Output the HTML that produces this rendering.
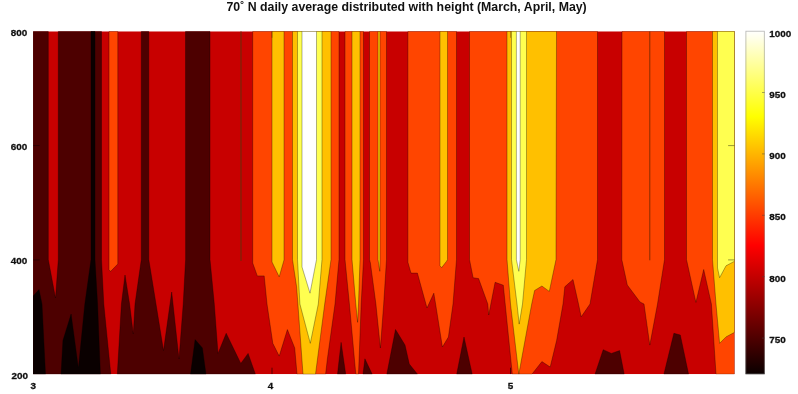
<!DOCTYPE html>
<html><head><meta charset="utf-8"><title>70 N daily average</title>
<style>
html,body{margin:0;padding:0;background:#fff;}
body{width:798px;height:394px;overflow:hidden;position:relative;font-family:"Liberation Sans",sans-serif;}
svg{position:absolute;left:0;top:0;display:block;}
svg text{font-family:"Liberation Sans",sans-serif;font-weight:bold;fill:#111;}
#plot polygon{stroke:#000;stroke-opacity:.45;stroke-width:.7;stroke-linejoin:round;}
</style></head><body>
<svg width="798" height="394" viewBox="0 0 798 394">
<defs>
<linearGradient id="hot" x1="0" y1="1" x2="0" y2="0">
<stop offset="0" stop-color="#0a0000"/><stop offset="0.375" stop-color="#ff0000"/><stop offset="0.75" stop-color="#ffff00"/><stop offset="1" stop-color="#ffffff"/>
</linearGradient>
<clipPath id="cp"><rect x="33.1" y="31.3" width="701.5" height="342.9"/></clipPath>
</defs>
<rect x="0" y="0" width="798" height="394" fill="#fff"/>
<g id="plot" clip-path="url(#cp)">
<rect x="33.1" y="31.3" width="701.5" height="342.9" fill="#c80000"/>
<polygon points="33.1,31.3 48.3,31.3 48.3,259.6 55.5,298.0 58.3,259.6 58.3,31.3 101.5,31.3 101.5,259.6 103.8,304.0 110.8,374.2 33.1,374.2" fill="#4d0000"/>
<polygon points="117.3,374.2 121.4,304.0 125.0,275.0 129.6,304.0 133.3,334.0 135.0,304.0 141.3,259.6 141.3,31.3 148.8,31.3 148.8,259.6 156.0,304.0 163.5,350.6 171.7,292.0 179.0,359.0 183.2,304.0 185.6,259.6 185.5,31.3 210.0,31.3 210.0,259.6 214.3,304.0 218.0,353.4 226.2,333.3 240.8,363.4 248.1,353.4 255.4,374.2" fill="#4d0000"/>
<polygon points="337.5,374.2 341.1,342.4 345.7,374.2" fill="#4d0000"/>
<polygon points="363.0,374.2 364.9,358.8 372.2,374.2" fill="#4d0000"/>
<polygon points="386.8,374.2 395.5,329.5 405.0,345.0 409.3,364.0 417.5,374.2" fill="#4d0000"/>
<polygon points="456.7,374.2 464.0,337.0 472.2,374.2" fill="#4d0000"/>
<polygon points="595.0,374.2 603.2,349.7 611.4,353.4 619.6,350.6 624.2,374.2" fill="#4d0000"/>
<polygon points="663.9,374.2 673.9,333.3 680.3,335.0 688.6,374.2" fill="#4d0000"/>
<polygon points="33.1,296.0 39.0,289.6 42.0,304.0 45.5,374.2 33.1,374.2" fill="#0a0000"/>
<polygon points="61.0,374.2 62.9,340.6 71.1,314.0 78.4,368.0 84.8,304.0 91.0,259.6 91.0,31.3 95.0,31.3 95.0,259.6 97.6,304.0 100.4,374.2" fill="#0a0000"/>
<polygon points="190.5,374.2 195.1,339.6 202.4,347.9 206.0,374.2" fill="#0a0000"/>
<polygon points="109.0,31.3 117.8,31.3 117.8,264.0 110.5,271.5 109.0,269.5" fill="#ff4500"/>
<polygon points="252.7,31.3 252.7,263.0 257.3,275.9 264.2,275.9 267.0,304.0 272.8,343.3 279.2,356.1 287.4,329.6 294.7,347.9 297.0,374.2 325.6,374.2 327.4,358.8 335.0,304.0 339.0,259.6 339.0,31.3" fill="#ff4500"/>
<polygon points="345.0,31.3 363.5,31.3 363.5,259.6 361.2,304.0 358.5,374.2 355.8,374.2 349.4,304.0 345.0,259.6" fill="#ff4500"/>
<polygon points="369.5,31.3 386.5,31.3 386.5,259.6 383.7,304.0 380.4,348.0 375.9,304.0 370.4,263.0 369.5,259.6" fill="#ff4500"/>
<polygon points="407.9,31.3 407.9,262.2 411.0,273.1 417.4,273.1 427.0,308.0 433.8,293.2 435.6,304.0 442.4,347.0 448.4,337.0 453.0,304.0 456.5,259.6 456.5,31.3" fill="#ff4500"/>
<polygon points="469.5,31.3 469.5,259.6 473.1,277.7 478.6,278.6 487.8,304.0 488.7,315.0 495.1,282.3 503.3,285.2 512.3,374.2 531.9,374.2 541.9,361.6 550.2,367.0 556.6,340.6 563.0,304.0 564.8,286.8 573.0,279.5 578.5,304.0 581.2,316.8 590.0,304.0 597.5,259.6 597.5,31.3" fill="#ff4500"/>
<polygon points="622.0,31.3 621.8,259.6 627.3,285.0 640.0,302.0 644.0,304.0 649.8,345.1 657.5,304.0 664.5,259.6 664.5,31.3" fill="#ff4500"/>
<polygon points="686.5,31.3 686.5,259.6 695.9,302.4 703.7,269.5 711.4,304.0 716.0,374.2 734.6,374.2 734.6,31.3" fill="#ff4500"/>
<polygon points="272.0,31.3 284.0,31.3 284.0,260.0 279.2,276.8 272.0,262.0" fill="#ffc000"/>
<polygon points="292.5,31.3 292.5,259.6 296.6,286.8 297.9,304.0 303.0,374.2 315.5,374.2 324.7,304.0 331.0,259.6 331.0,31.3" fill="#ffc000"/>
<polygon points="352.0,31.3 360.0,31.3 360.0,259.6 358.5,304.0 357.6,322.3 355.8,304.0 352.0,259.6" fill="#ffc000"/>
<polygon points="378.0,31.3 380.0,31.3 380.0,259.6 379.8,271.3 378.0,259.6" fill="#ffc000"/>
<polygon points="440.0,31.3 447.5,31.3 447.5,259.6 446.6,261.2 441.7,267.6 440.0,265.8" fill="#ffc000"/>
<polygon points="507.0,31.3 507.0,259.6 510.5,304.0 518.8,374.2 531.7,304.0 534.6,290.5 541.9,286.0 549.3,291.4 556.0,259.6 556.5,31.3" fill="#ffc000"/>
<polygon points="712.5,31.3 712.5,259.6 716.0,304.0 719.6,343.3 726.0,336.9 734.6,332.3 734.6,31.3" fill="#ffc000"/>
<polygon points="297.5,31.3 297.5,259.6 299.9,304.0 310.3,343.3 318.3,304.0 322.0,259.6 322.0,31.3" fill="#ffff50"/>
<polygon points="511.5,31.3 511.5,259.6 517.0,304.0 519.2,324.1 522.5,304.0 526.5,259.6 526.5,31.3" fill="#ffff50"/>
<polygon points="717.5,31.3 717.5,268.0 719.6,277.7 726.0,265.8 734.6,261.2 734.6,31.3" fill="#ffff50"/>
<polygon points="302.0,31.3 302.0,267.0 310.0,293.2 316.5,259.6 316.5,31.3" fill="#ffffff"/>
<polygon points="516.4,31.3 516.4,259.6 518.8,271.3 520.2,259.6 520.2,31.3" fill="#ffffff"/>
<line x1="241" y1="31.3" x2="241" y2="261" stroke="#6e2a08" stroke-width="1.1" />
<line x1="649.8" y1="31.3" x2="649.8" y2="260.3" stroke="#7a2a00" stroke-width="0.9" />
<line x1="272.0" y1="374.2" x2="272.0" y2="367.7" stroke="#000" stroke-opacity="0.7" stroke-width="0.8"/>
<line x1="272.0" y1="31.3" x2="272.0" y2="37.8" stroke="#000" stroke-opacity="0.35" stroke-width="0.8"/>
<line x1="510.5" y1="374.2" x2="510.5" y2="367.7" stroke="#000" stroke-opacity="0.7" stroke-width="0.8"/>
<line x1="510.5" y1="31.3" x2="510.5" y2="37.8" stroke="#000" stroke-opacity="0.35" stroke-width="0.8"/>
<line x1="33.1" y1="145.6" x2="39.6" y2="145.6" stroke="#000" stroke-opacity="0.5" stroke-width="0.8"/>
<line x1="734.6" y1="145.6" x2="728.1" y2="145.6" stroke="#000" stroke-opacity="0.5" stroke-width="0.8"/>
<line x1="33.1" y1="259.9" x2="39.6" y2="259.9" stroke="#000" stroke-opacity="0.5" stroke-width="0.8"/>
<line x1="734.6" y1="259.9" x2="728.1" y2="259.9" stroke="#000" stroke-opacity="0.5" stroke-width="0.8"/>
</g>
<rect x="745.5" y="30.8" width="19.2" height="343.4" fill="url(#hot)"/>
<rect x="745.9" y="31.2" width="18.4" height="342.6" fill="none" stroke="#777" stroke-opacity="0.55" stroke-width="0.8"/>
<g stroke="#444" stroke-opacity="0.6" stroke-width="0.8">
<line x1="762" x2="764.7" y1="92.5" y2="92.5"/><line x1="762" x2="764.7" y1="153.9" y2="153.9"/><line x1="762" x2="764.7" y1="215.3" y2="215.3"/><line x1="762" x2="764.7" y1="276.7" y2="276.7"/><line x1="762" x2="764.7" y1="338.1" y2="338.1"/>
</g>
<text x="226.5" y="11.3" font-size="12.3" textLength="360.2" lengthAdjust="spacingAndGlyphs">70˚ N daily average distributed with height (March, April, May)</text>
<g font-size="9.9" stroke="#111" stroke-width="0.3">
<text x="27.3" y="36" text-anchor="end">800</text>
<text x="27.3" y="150" text-anchor="end">600</text>
<text x="27.3" y="264.3" text-anchor="end">400</text>
<text x="28.1" y="379.3" text-anchor="end">200</text>
<text x="33.2" y="389.0" text-anchor="middle">3</text>
<text x="270.6" y="389.3" text-anchor="middle">4</text>
<text x="510.6" y="388.8" text-anchor="middle">5</text>
<text x="769.3" y="36.6">1000</text>
<text x="769.3" y="97.6">950</text>
<text x="769.3" y="158.7">900</text>
<text x="769.3" y="219.9">850</text>
<text x="769.3" y="281.6">800</text>
<text x="769.3" y="343.2">750</text>
</g>
</svg>
</body></html>
